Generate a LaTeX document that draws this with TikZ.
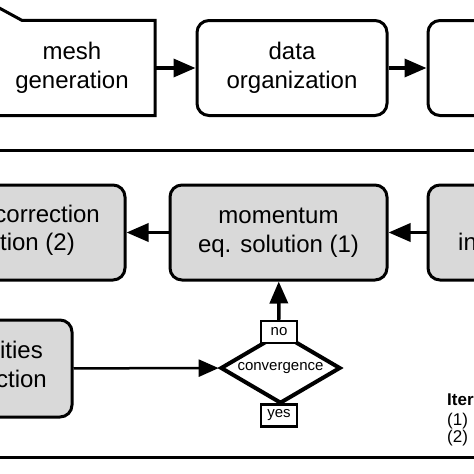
\documentclass[tikz,border=0pt]{standalone}
\usepackage{fontspec}
\setmainfont{Liberation Sans}
\usetikzlibrary{shapes.geometric,arrows.meta}
\begin{document}
\begin{tikzpicture}[x=1pt,y=-1pt,
  big/.style={font=\fontsize{24}{29}\selectfont},
  small/.style={font=\fontsize{15}{17}\selectfont},
  leg/.style={font=\fontsize{17}{17}\selectfont},
  box/.style={draw, line width=3pt, rounded corners=12pt, minimum height=95pt, inner sep=0pt, align=center, big},
  gbox/.style={box, fill=gray!30},
  txt/.style={inner sep=0pt, big},
  arr/.style={line width=3.5pt, -{Triangle[length=22pt,width=18pt]}},
  thinarr/.style={line width=2.5pt, -{Triangle[length=20pt,width=17pt]}},
  tag/.style={draw, fill=white, line width=2.5pt, minimum width=36pt, minimum height=22pt, inner sep=0pt, small}]
\useasboundingbox (0,0) rectangle (474,474);
\clip (0,0) rectangle (474,474);
% top row
\node[txt, align=center, minimum width=166pt, minimum height=95pt] (mesh) at (72,68) {mesh\\generation};
\draw[line width=3pt, line join=miter] ([yshift=18pt]mesh.north west) -- ([xshift=33pt]mesh.north west) -- (mesh.north east) -- (mesh.south east) -- (mesh.south west) -- cycle;
\node[box, minimum width=190pt] (data) at (292,68) {data\\organization};
\node[box, minimum width=190pt] (top3) at (523,68) {};
\draw[arr] (mesh.east) -- (data.west);
\draw[arr] (data) -- (top3);
% frame
\draw[line width=3pt] (-20,150) rectangle (494,457);
% second row
\node[gbox, minimum width=262pt] (pc) at (-6,232.5) {};
\node[txt, anchor=base east] (pc1) at (100,222) {correction};
\node[txt, anchor=base east] (pc2) at (75,250) {tion (2)};
\node[gbox, minimum width=217pt] (mom) at (278.5,232.5) {momentum\\eq. solution (1)};
\node[gbox, minimum width=217pt] (ini) at (536.5,232.5) {};
\node[txt, anchor=base west] (ini2) at (458,250) {in};
\draw[arr] (mom) -- (pc);
\draw[arr] (ini) -- (mom);
% third row
\node[gbox, minimum width=200pt, minimum height=97pt] (vc) at (-28,368.5) {};
\node[txt, anchor=base east] (vc1) at (43,358) {ities};
\node[txt, anchor=base east] (vc2) at (47,387) {ction};
\node[draw, shape=diamond, line width=4pt, aspect=1.69, minimum width=120pt, minimum height=71pt, inner sep=0pt, small] (conv) at (280.5,368) {convergence};
\node[tag] (no) at (279,332) {no};
\node[tag] (yes) at (279,415.5) {yes};
\draw[arr] (no) -- (mom);
\draw[thinarr] (vc) -- (conv);
% legend
\node[anchor=base west, inner sep=0pt, font=\bfseries\fontsize{17}{17}\selectfont] (iter) at (447,405) {Iter:};
\node[anchor=base west, inner sep=0pt, leg] (l1) at (447,425) {(1)};
\node[anchor=base west, inner sep=0pt, leg] (l2) at (447,442) {(2)};
\end{tikzpicture}
\end{document}
